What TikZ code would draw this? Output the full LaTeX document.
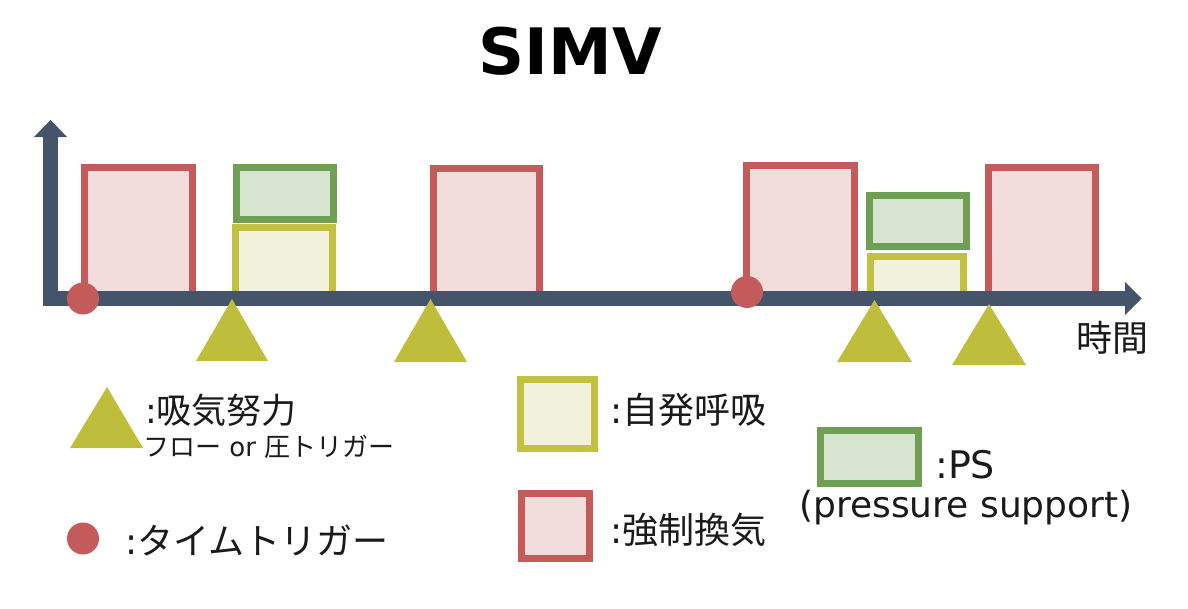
\documentclass[tikz,border=0pt]{standalone}
\usepackage{fontspec}
\setmainfont{DejaVu Sans}
\newfontfamily\cjk{Noto Sans CJK JP}
\definecolor{navy}{HTML}{44546A}
\definecolor{redline}{HTML}{C55A5A}
\definecolor{redfill}{HTML}{F2DCDC}
\definecolor{yline}{HTML}{C2C142}
\definecolor{yfill}{HTML}{F2F2DC}
\definecolor{gline}{HTML}{6E9F54}
\definecolor{gfill}{HTML}{D7E4D0}
\definecolor{trifill}{HTML}{BEBE3C}
\definecolor{dotfill}{HTML}{C45B5B}
\definecolor{txt}{HTML}{1A1A1A}
\tikzset{
  mandbox/.style={draw=redline, fill=redfill, line width=7pt},
  spontbox/.style={draw=yline, fill=yfill, line width=7pt},
  psbox/.style={draw=gline, fill=gfill, line width=7pt},
  trig/.style={fill=trifill, draw=none},
  timedot/.style={fill=dotfill, draw=none},
  axisfill/.style={fill=navy, draw=none},
  lbl/.style={inner sep=0pt, text=txt, anchor=west},
}
\begin{document}
\begin{tikzpicture}[x=1pt,y=-1pt]
\useasboundingbox (0,0) rectangle (1188,608);
% title
\node[inner sep=0pt, text=black] (title) at (570,51) {\fontsize{64}{68}\selectfont\bfseries SIMV};
% breath boxes
\draw[mandbox] (84.5,167.5) rectangle (192.5,298);
\draw[spontbox] (235.5,227.5) rectangle (332.5,298);
\draw[psbox] (236.5,167.5) rectangle (333.5,219.5);
\draw[mandbox] (433.5,168.5) rectangle (539.5,298);
\draw[mandbox] (746.5,165.5) rectangle (854.5,298);
\draw[spontbox] (870.5,256.5) rectangle (963.5,298);
\draw[psbox] (869.5,195.5) rectangle (966.5,246.5);
\draw[mandbox] (988.5,167.5) rectangle (1095.5,298);
% axes
\fill[axisfill] (43,136) rectangle (58,306);
\fill[axisfill] (34,137) -- (50.5,120) -- (67,137) -- cycle;
\fill[axisfill] (43,291) rectangle (1126,306);
\fill[axisfill] (1125,282) -- (1141.5,298.5) -- (1125,315) -- cycle;
\node[lbl, anchor=center] (jikan) at (1112,338) {\fontsize{36}{40}\selectfont\cjk 時間};
% time triggers
\fill[timedot] (83,298.5) circle (16);
\fill[timedot] (747,292) circle (16);
% effort triangles
\fill[trig] (232,299) -- (268,361) -- (196,361) -- cycle;
\fill[trig] (430.5,299) -- (467,362) -- (394,362) -- cycle;
\fill[trig] (874.5,300) -- (912,362) -- (837,362) -- cycle;
\fill[trig] (989,304) -- (1026,365) -- (952,365) -- cycle;
% legend
\fill[trig] (107,387) -- (143,448) -- (70,448) -- cycle;
\node[lbl] (effort) at (145,410) {\fontsize{35}{40}\selectfont :{\cjk 吸気努力}};
\node[lbl] (effortsub) at (143,447) {\fontsize{26}{30}\selectfont{\cjk フロー} or {\cjk 圧トリガー}};
\fill[timedot] (83,538.5) circle (16);
\node[lbl] (timetrig) at (125,540) {\fontsize{36}{40}\selectfont :{\cjk タイムトリガー}};
\draw[spontbox] (520,379) rectangle (594,448);
\node[lbl] (spont) at (610,410) {\fontsize{36}{40}\selectfont :{\cjk 自発呼吸}};
\draw[mandbox] (521.5,493.5) rectangle (589.5,558.5);
\node[lbl] (mand) at (610,530) {\fontsize{36}{40}\selectfont :{\cjk 強制換気}};
\draw[psbox] (820.5,430.5) rectangle (918.5,483.5);
\node[lbl] (ps) at (935,465) {\fontsize{38}{42}\selectfont :PS};
\node[lbl, anchor=center] (pslong) at (966,508) {\fontsize{36}{40}\selectfont (pressure support)};
\end{tikzpicture}
\end{document}
